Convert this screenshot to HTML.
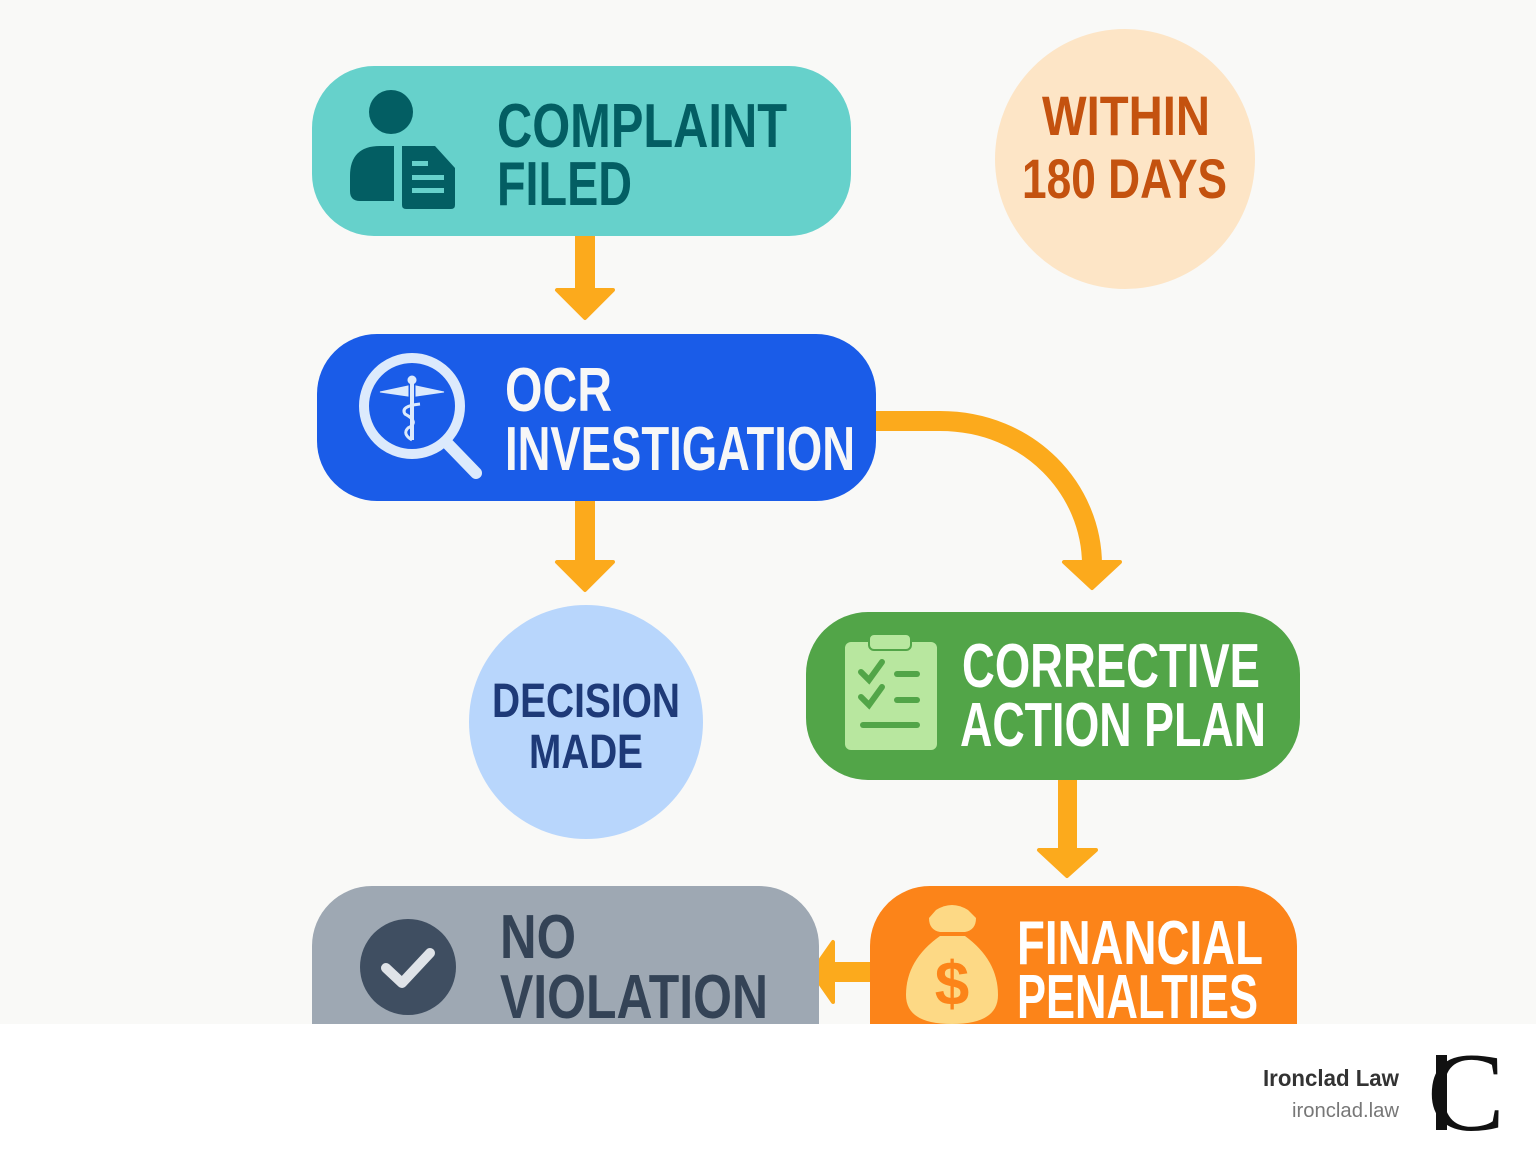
<!DOCTYPE html>
<html><head><meta charset="utf-8"><style>
html,body{margin:0;padding:0;background:#fff}
svg{display:block}
text{font-family:"Liberation Sans Narrow","Liberation Sans",sans-serif;font-weight:bold}
</style></head><body>
<svg width="1536" height="1154" viewBox="0 0 1536 1154" xmlns="http://www.w3.org/2000/svg">
<rect x="0" y="0" width="1536" height="1024" fill="#f9f9f7"/>
<circle cx="1125" cy="159" r="130" fill="#fde5c6"/>
<text x="1042" y="135" font-size="56" fill="#c4520f" textLength="168" lengthAdjust="spacingAndGlyphs">WITHIN</text>
<text x="1022" y="198" font-size="56" fill="#c4520f" textLength="205" lengthAdjust="spacingAndGlyphs">180 DAYS</text>
<g fill="#fcaa1c" stroke="#fcaa1c" stroke-linejoin="round" stroke-width="4">
<rect x="575" y="236" width="20" height="56" stroke="none"/>
<polygon points="557,290 613,290 585,318"/>
<rect x="575" y="501" width="20" height="63" stroke="none"/>
<polygon points="557,562 613,562 585,590"/>
<rect x="1058" y="780" width="19" height="70" stroke="none"/>
<polygon points="1039,850 1096,850 1067,876"/>
<rect x="832" y="962" width="40" height="20" stroke="none"/>
<polygon points="833,942 833,1002 812,972"/>
<polygon points="1064,562 1120,562 1092,588"/>
</g>
<path d="M876,421 L940,421 C1030,421 1092,490 1092,565" fill="none" stroke="#fcaa1c" stroke-width="20"/>
<rect x="312" y="66" width="539" height="170" rx="62" fill="#66d1cb"/>
<circle cx="391" cy="112" r="22" fill="#035e63"/>
<path d="M394,146 L394,201 L360,201 Q350,201 350,191 L350,176 Q350,146 380,146 Z" fill="#035e63"/>
<path d="M402,146 L435,146 L455,168 L455,205 Q455,209 451,209 L406,209 Q402,209 402,205 Z" fill="#035e63"/>
<g fill="#66d1cb"><rect x="412" y="161" width="16" height="5"/><rect x="412" y="175" width="32" height="5"/><rect x="412" y="188" width="32" height="5"/></g>
<text x="497" y="147" font-size="62" fill="#035e63" textLength="290" lengthAdjust="spacingAndGlyphs">COMPLAINT</text>
<text x="497" y="205" font-size="62" fill="#035e63" textLength="135" lengthAdjust="spacingAndGlyphs">FILED</text>
<rect x="317" y="334" width="559" height="167" rx="60" fill="#1a5ce8"/>
<circle cx="412" cy="406" r="48" fill="none" stroke="#dceafc" stroke-width="10"/>
<line x1="446" y1="442" x2="476" y2="473" stroke="#dceafc" stroke-width="12" stroke-linecap="round"/>
<g fill="#dceafc" stroke="#dceafc">
<circle cx="412" cy="380" r="4"/>
<line x1="412" y1="380" x2="412" y2="440" stroke-width="4"/>
<polygon points="380,392 408,386 408,396"/><polygon points="444,392 416,386 416,396"/>
</g>
<path d="M420,404 Q400,406 405,414 Q420,422 408,428 Q402,434 412,440" fill="none" stroke="#dceafc" stroke-width="3"/>
<text x="505" y="411" font-size="62" fill="#f7f7f7" textLength="107" lengthAdjust="spacingAndGlyphs">OCR</text>
<text x="505" y="470" font-size="62" fill="#f7f7f7" textLength="350" lengthAdjust="spacingAndGlyphs">INVESTIGATION</text>
<circle cx="586" cy="722" r="117" fill="#b8d6fc"/>
<text x="586" y="717" font-size="48" fill="#1e3a78" text-anchor="middle" textLength="188" lengthAdjust="spacingAndGlyphs">DECISION</text>
<text x="586" y="768" font-size="48" fill="#1e3a78" text-anchor="middle" textLength="114" lengthAdjust="spacingAndGlyphs">MADE</text>
<rect x="806" y="612" width="494" height="168" rx="62" fill="#52a548"/>
<rect x="845" y="642" width="92" height="108" rx="6" fill="#b8e79f"/>
<rect x="869" y="634" width="42" height="16" rx="5" fill="#b8e79f" stroke="#52a548" stroke-width="2"/>
<g stroke="#52a548" stroke-width="6" stroke-linecap="round" fill="none">
<polyline points="861,672 869,680 882,662"/><polyline points="861,697 869,705 882,687"/>
<line x1="897" y1="674" x2="917" y2="674"/><line x1="897" y1="700" x2="917" y2="700"/><line x1="863" y1="725" x2="917" y2="725"/>
</g>
<text x="962" y="687" font-size="62" fill="#ffffff" textLength="298" lengthAdjust="spacingAndGlyphs">CORRECTIVE</text>
<text x="960" y="746" font-size="62" fill="#ffffff" textLength="306" lengthAdjust="spacingAndGlyphs">ACTION PLAN</text>
<rect x="312" y="886" width="507" height="200" rx="60" fill="#9ea8b3"/>
<circle cx="408" cy="967" r="48" fill="#3f4e61"/>
<polyline points="386,968 402,983 430,953" fill="none" stroke="#dfe3e8" stroke-width="10" stroke-linecap="round" stroke-linejoin="round"/>
<text x="500" y="958" font-size="62" fill="#344356" textLength="76" lengthAdjust="spacingAndGlyphs">NO</text>
<text x="500" y="1018" font-size="62" fill="#344356" textLength="268" lengthAdjust="spacingAndGlyphs">VIOLATION</text>
<rect x="870" y="886" width="427" height="200" rx="60" fill="#fc8419"/>
<path d="M936,910 Q952,900 968,910 L976,918 Q976,930 965,932 L940,932 Q929,930 929,918 Z" fill="#fdd985"/>
<path d="M940,936 L965,936 Q998,960 998,995 Q998,1024 952,1024 Q906,1024 906,995 Q906,960 940,936 Z" fill="#fdd985"/>
<text x="952" y="1005" font-size="62" fill="#fc8419" text-anchor="middle" style="font-family:'Liberation Sans',sans-serif">$</text>
<text x="1017" y="964" font-size="62" fill="#ffffff" textLength="246" lengthAdjust="spacingAndGlyphs">FINANCIAL</text>
<text x="1017" y="1018" font-size="62" fill="#ffffff" textLength="241" lengthAdjust="spacingAndGlyphs">PENALTIES</text>
<rect x="0" y="1024" width="1536" height="130" fill="#ffffff"/>
<text x="1399" y="1086" font-size="23" fill="#333" text-anchor="end" textLength="136" lengthAdjust="spacingAndGlyphs">Ironclad Law</text>
<text x="1399" y="1117" font-size="20" fill="#777" text-anchor="end" style="font-weight:normal" textLength="107" lengthAdjust="spacingAndGlyphs">ironclad.law</text>
<text x="1466" y="1130" font-size="112" fill="#111" text-anchor="middle" style="font-family:'Liberation Serif',serif;font-weight:normal" textLength="78" lengthAdjust="spacingAndGlyphs">C</text>
<rect x="1436" y="1055" width="11" height="75" fill="#111"/>
</svg>
</body></html>
